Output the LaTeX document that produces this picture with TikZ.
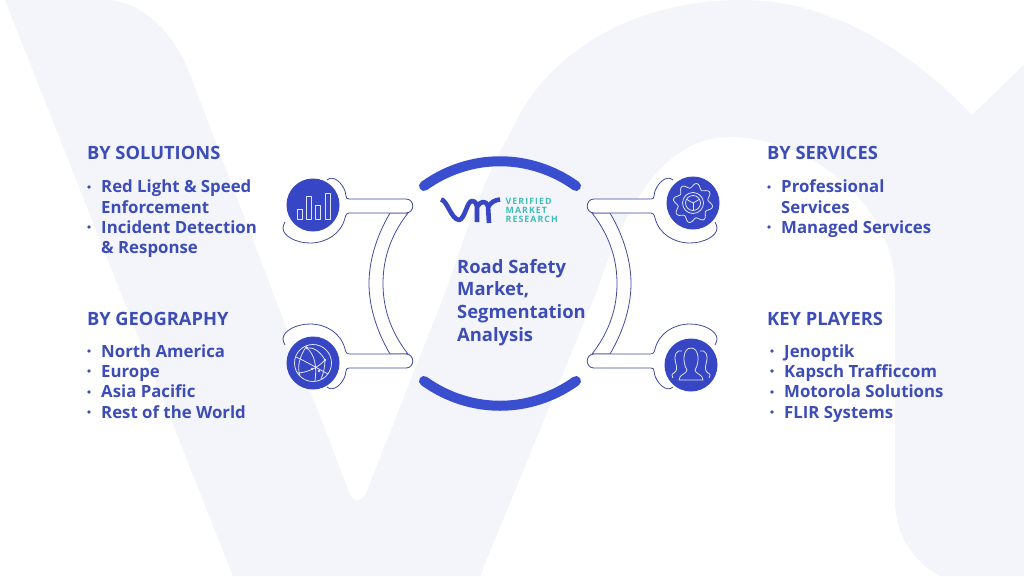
\documentclass[tikz,border=0pt]{standalone}
\usepackage{fontspec}
\setmainfont{Open Sans}
\usepackage{tikz}

\definecolor{wash}{HTML}{F4F5FB}
\definecolor{inkblue}{HTML}{3D4DB8}
\definecolor{arcblue}{HTML}{3A4ED0}
\definecolor{iconblue}{HTML}{3646C4}
\definecolor{linknavy}{HTML}{414C9C}
\definecolor{teal}{HTML}{3FBDB6}

\begin{document}
\begin{tikzpicture}[x=1pt, y=-1pt,
		head_style/.style={anchor=base west,inner sep=0pt,text=inkblue,font=\fontsize{18.3}{20}\selectfont\bfseries},
		item_style/.style={anchor=base west,inner sep=0pt,text=inkblue,font=\fontsize{16.8}{20}\selectfont\bfseries},
		dot_style/.style={circle,fill=inkblue,inner sep=0pt,minimum size=3.6pt},
		core_style/.style={anchor=base west,inner sep=0pt,text=inkblue,font=\fontsize{18.4}{22}\selectfont\bfseries},
		brand_style/.style={anchor=base west,inner sep=0pt,text=teal,font=\fontsize{8.8}{10}\selectfont\bfseries\addfontfeature{LetterSpace=12}},
		icon_style/.style={circle,fill=iconblue,minimum size=53pt,inner sep=0pt},
		link_style/.style={draw=linknavy,line width=0.8pt,fill=white},
		glyph_style/.style={draw=white!85!iconblue,line width=0.8pt,line join=round},
		logo_style/.style={draw=iconblue,line width=4.6pt,line join=round},
		arc_style/.style={draw=arcblue,line width=10pt,line cap=round}]

		\useasboundingbox (0,0) rectangle (1024,576);
		\fill[white] (0,0) rectangle (1024,576);

		% backdrop letters
		\fill[wash] (5,0) -- (110,0) .. controls (150,5) and (178,40) .. (192,80)
			-- (350,495) .. controls (355,503) and (362,503) .. (367,491)
			-- (447,288) .. controls (465,235) and (485,175) .. (512,130)
			.. controls (545,55) and (630,0) .. (742,0)
			.. controls (830,0) and (910,50) .. (972,115)
			-- (1024,65) -- (1024,576) -- (940,576)
			.. controls (910,560) and (895,530) .. (895,500) -- (895,288)
			.. controls (895,205) and (810,137) .. (729,137)
			.. controls (665,137) and (625,205) .. (598,288)
			-- (480,576) -- (233,576) -- cycle;

		% arcs round the centre
		\draw[arc_style] (424,186) .. controls (470,153) and (530,153) .. (576,186);
		\draw[arc_style] (424,381) .. controls (470,414) and (530,414) .. (576,381);

		% struts and arms, same shape in each corner
		\foreach \sx in {1,-1} {
			\begin{scope}[shift={(500,283.5)},xscale=\sx]
				\draw[link_style] (-92,-70.5) .. controls (-112,-45) and (-117,-20) .. (-117,0)
					.. controls (-117,20) and (-112,45) .. (-92,70.5)
					-- (-110,70.5) .. controls (-125,45) and (-131,20) .. (-131,0)
					.. controls (-131,-20) and (-125,-45) .. (-110,-70.5) -- cycle;
				\foreach \sy in {1,-1} {
					\begin{scope}[yscale=\sy]
						\draw[link_style] (-173,-103.5) .. controls (-170,-106) and (-167,-105.5) .. (-165,-104.5)
							.. controls (-158,-101) and (-154,-92) .. (-154,-87.5)
							.. controls (-154,-85.5) and (-153,-84.5) .. (-151,-84.5)
							-- (-94,-84.5) .. controls (-85,-84.5) and (-85,-70.5) .. (-94,-70.5)
							-- (-151,-70.5) .. controls (-153,-70.5) and (-154,-69.5) .. (-155,-65.5)
							.. controls (-159,-49.5) and (-174,-40.5) .. (-190,-40.5)
							.. controls (-204,-40.5) and (-217,-47.5) .. (-217,-55.5)
							.. controls (-217,-57.5) and (-216,-59.5) .. (-215,-61.5);
					\end{scope}
				}
			\end{scope}
		}

		% icon discs
		\node[icon_style] (solutions) at (313,205) {};
		\node[icon_style] (geography) at (313,363) {};
		\node[icon_style] (services) at (693,203) {};
		\node[icon_style] (players) at (691,365) {};

		% bars
		\foreach \bx/\by in {297/209,306/196,315/205,325/193} {
			\draw[glyph_style] (\bx,219) rectangle (\bx+5,\by);
		}

		% globe
		\begin{scope}[shift={(geography.center)}]
			\draw[glyph_style] (0,0) circle (18.5pt);
			\draw[glyph_style] (-6,-17.5) .. controls (-14,-6) and (-16,4) .. (-13,13);
			\draw[glyph_style] (-17,-6) .. controls (-8,-2) and (4,5) .. (15,11);
			\draw[glyph_style] (-16,10) .. controls (-6,10) and (6,4) .. (12,-3);
			\draw[glyph_style] (-6,-15) .. controls (2,-16) and (8,-10) .. (12,-3);
			\draw[glyph_style] (-6,-15) .. controls (2,-8) and (4,4) .. (2,18);
			\draw[glyph_style] (12,-3) .. controls (12,4) and (10,12) .. (8,16);
			\foreach \px/\py in {-6/-15,12/-3,-1/6,6/8} {
				\fill[white!85!iconblue] (\px,\py) circle (1.3pt);
			}
		\end{scope}

		% gear with steering wheel
		\begin{scope}[shift={(services.center)}]
			\draw[glyph_style] plot[smooth cycle,samples=73,domain=0:355] ({(17.5+2.4*sin(8*\x))*cos(\x)},{(17.5+2.4*sin(8*\x))*sin(\x)});
			\draw[glyph_style] (0,0) circle (10.5pt);
			\draw[glyph_style] (0,0) circle (7.5pt);
			\draw[glyph_style] (0,0) -- (-6.5,-3.7);
			\draw[glyph_style] (0,0) -- (6.5,-3.7);
			\draw[glyph_style] (0,0) -- (0,7.5);
		\end{scope}

		% three people
		\begin{scope}[shift={(players.center)}]
			\draw[glyph_style] (-12,15) -- (12,15) .. controls (12,9) and (4,9) .. (4,5)
				.. controls (9,-3) and (8,-17) .. (0,-17) .. controls (-8,-17) and (-9,-3) .. (-4,5)
				.. controls (-4,9) and (-12,9) .. (-12,15) -- cycle;
			\draw[glyph_style] (-9,-14) .. controls (-14,-16) and (-18,-10) .. (-15,-1)
				.. controls (-14,3) and (-14,6) .. (-17,8) .. controls (-20,9) and (-19,11) .. (-18,13);
			\draw[glyph_style] (9,-14) .. controls (14,-16) and (18,-10) .. (15,-1)
				.. controls (14,3) and (14,6) .. (17,8) .. controls (20,9) and (19,11) .. (18,13);
		\end{scope}

		% logo
		\draw[logo_style] (441,199.5) .. controls (447,200) and (451,219) .. (459,220)
			.. controls (465,219) and (467,201) .. (472,201)
			.. controls (476,201) and (477,205) .. (477,209) -- (477,222);
		\draw[logo_style] (477,207) .. controls (480,201) and (486,200) .. (488,206) -- (489,223);
		\draw[logo_style] (488,207) .. controls (491,202) and (495,200) .. (500,199.5);
		\node[brand_style] (brand1) at (505.5,204.5) {VERIFIED};
		\node[brand_style] (brand2) at (505.5,213.5) {MARKET};
		\node[brand_style] (brand3) at (505.5,222.5) {RESEARCH};

		% centre title
		\node[core_style] (core1) at (457,273) {Road Safety};
		\node[core_style] (core2) at (457,295) {Market,};
		\node[core_style] (core3) at (457,318) {Segmentation};
		\node[core_style] (core4) at (457,341) {Analysis};

		% left lists
		\node[head_style] (h1) at (87,159) {BY SOLUTIONS};
		\node[item_style] (s1) at (101,192) {Red Light \& Speed};
		\node[item_style] (s2) at (101,213) {Enforcement};
		\node[item_style] (s3) at (101,233) {Incident Detection};
		\node[item_style] (s4) at (101,253) {\& Response};
		\node[head_style] (h2) at (87,325) {BY GEOGRAPHY};
		\node[item_style] (g1) at (101,357) {North America};
		\node[item_style] (g2) at (101,377) {Europe};
		\node[item_style] (g3) at (101,397) {Asia Pacific};
		\node[item_style] (g4) at (101,418) {Rest of the World};

		% right lists
		\node[head_style] (h3) at (767,159) {BY SERVICES};
		\node[item_style] (v1) at (781,192) {Professional};
		\node[item_style] (v2) at (781,213) {Services};
		\node[item_style] (v3) at (781,233) {Managed Services};
		\node[head_style] (h4) at (767,325) {KEY PLAYERS};
		\node[item_style] (k1) at (784,357) {Jenoptik};
		\node[item_style] (k2) at (784,377) {Kapsch Trafficcom};
		\node[item_style] (k3) at (784,397) {Motorola Solutions};
		\node[item_style] (k4) at (784,418) {FLIR Systems};

		% bullets
		\foreach \ax/\ay/\an in {89/187/d1,89/227/d2,89/351/d3,89/371/d4,89/392/d5,89/412/d6,
			769/187/d7,769/227/d8,772/351/d9,772/371/d10,772/392/d11,772/412/d12} {
			\node[dot_style] (\an) at (\ax,\ay) {};
		}
\end{tikzpicture}
\end{document}
